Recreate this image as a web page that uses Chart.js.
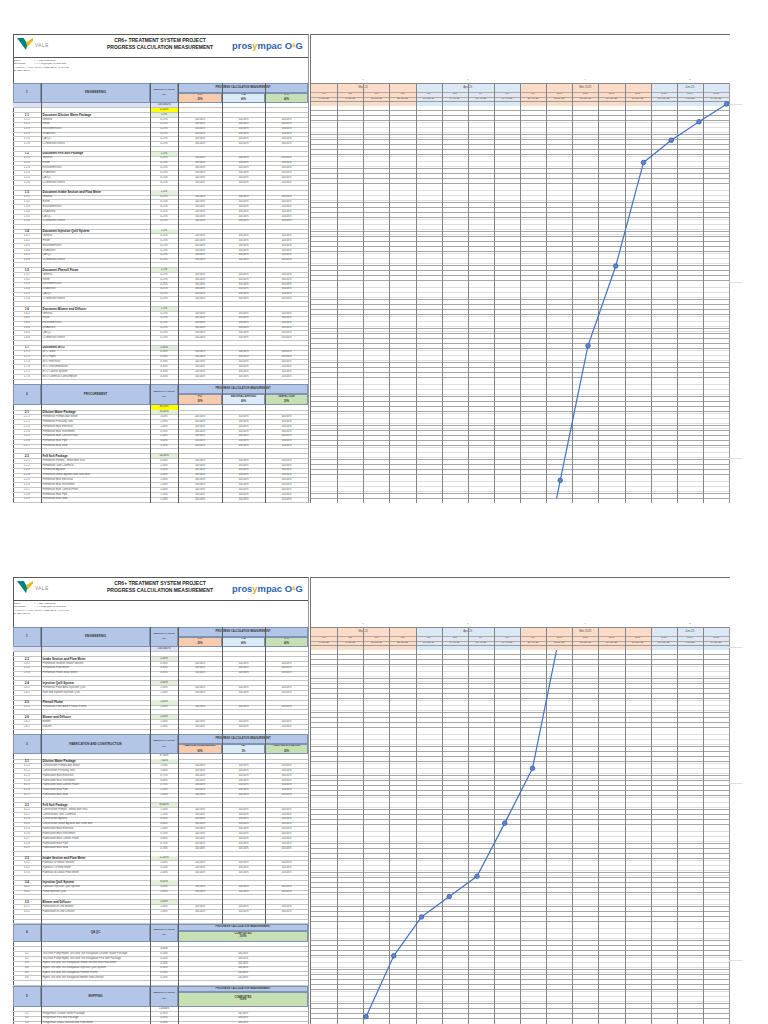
<!DOCTYPE html>
<html>
<head>
<meta charset="utf-8">
<script src="https://cdn.jsdelivr.net/npm/chart.js"></script>
<style>
body { margin: 0; background: #fff; }
#sheet { position: relative; width: 768px; height: 1024px; overflow: hidden; font-family: "Liberation Sans", Arial, sans-serif; color: #333; }
.b { position: absolute; box-sizing: border-box; white-space: nowrap; overflow: hidden; display: flex; align-items: center; font-size: 3px; line-height: 1.05; }
.c { justify-content: center; text-align: center; }
.l { justify-content: flex-start; padding-left: 1.5px; }
.m { flex-direction: column; justify-content: center; text-align: center; }
canvas { position: absolute; }
</style>
</head>
<body>
<div id="sheet"></div>
<script>
// chart data
const weeks = ["W1", "W2", "W3", "W4", "W5", "W6", "W7", "W8", "W9", "W10", "W11", "W12", "W13", "W14", "W15", "W16"];
const weekDates = ["1-Mar-25", "8-Mar-25", "15-Mar-25", "22-Mar-25", "29-Mar-25", "5-Apr-25", "12-Apr-25", "19-Apr-25",
  "26-Apr-25", "3-May-25", "10-May-25", "17-May-25", "24-May-25", "31-May-25", "7-Jun-25", "14-Jun-25"];
const months = ["Mar-25", "Apr-25", "Mei 2025", "Jun-25"];
const monthWeeks = [4, 4, 5, 3];
const monthTicks = ["1", "2", "3", "4"];
// cumulative progress (%)
const cumulativeProgress = [0, 6.7, 14.0, 20.9, 25.3, 27.6, 29.9, 35.9, 42.1, 57.5, 72.7, 81.7, 93.4, 95.9, 98.0, 100];

// table text
const docItems = ["General", "HSSE", "ENGINEERING", "DRAWING", "QA/QC", "COMMISSIONING"];
const mtoItems = ["MTO Steel", "MTO Pipes", "MTO Electrical", "MTO Instrumentation", "MTO Control System", "MTO Chemical Consumption"];
const dwpBuy = ["Pembelian Pompa dan Motor", "Pembelian Pressing Tank", "Pembelian Bulk Electrical", "Pembelian Bulk Instrument",
  "Pembelian Bulk Control Panel", "Pembelian Bulk Pipe", "Pembelian Bulk Skid"];
const fesBuy = ["Pembelian Pompa , Motor dan VSD", "Pembelian Tank Chemical", "Pembelian Agitator", "Pembelian Motor Agitator dan Gear Box",
  "Pembelian Bulk Electrical", "Pembelian Bulk Instrument", "Pembelian Bulk Control Panel", "Pembelian Bulk Pipe", "Pembelian Bulk Skid"];
const dwpFab = ["Construction Pompa dan Motor", "Construction Pressing Tank", "Fabrication Bulk Electrical", "Fabrication Bulk Instrument",
  "Fabrication Bulk Control Panel", "Fabrication Bulk Pipe", "Fabrication Bulk Skid"];
const fesFab = ["Construction Pompa , Motor dan VSD", "Construction Tank Chemical", "Construction Agitator", "Construction Motor Agitator dan Gear Box",
  "Fabrication Bulk Electrical", "Fabrication Bulk Instrument", "Fabrication Bulk Control Panel", "Fabrication Bulk Pipe", "Fabrication Bulk Skid"];
const qaItems = ["Test Run Pump Hydro Test and Test Kelayakan Dilution Water Package", "Test Run Pump Hydro Test and Test Kelayakan FeS Soft Package",
  "Hydro Test and Test Kelayakan Intake Section and Flow Meter", "Hydro Test and Test Kelayakan Injection Quill System",
  "Hydro Test and Test Kelayakan Phenoll Flume", "Hydro Test and Test Kelayakan Blower and Diffuser"];
const shipItems = ["Pengiriman Dilution Water Package", "Pengiriman FeS Soft Package", "Pengiriman Intake Section and Flow Meter"];

const sheet = document.getElementById("sheet");
const RH = 4.85;
const COL = [12.5, 41, 150, 178, 222, 265, 308];
const GRID_L = 311, GRID_W = 418, WK = GRID_W / 16;

function box(x, y, w, h, cls, css, text) {
  var d = document.createElement("div");
  d.className = "b " + (cls || "");
  d.style.cssText = "left:" + x + "px;top:" + y + "px;width:" + w + "px;height:" + h + "px;" + (css || "");
  if (text !== undefined) d.innerHTML = text;
  sheet.appendChild(d);
  return d;
}
function hline(x, y, w, c) { box(x, y, w, 0.7, "", "background:" + (c || "#c4c4c4")); }
function vline(x, y, h, c, wd) { box(x, y, wd || 0.9, h, "", "background:" + (c || "#6b6b6b")); }

// page frame, logos and title block
function drawPageTop(T, bottom) {
  box(COL[0], T, COL[6] - COL[0] + 1.2, bottom - T, "", "border:1px solid #5a5a5a;border-right:1.2px solid #9a9a9a;border-bottom:none");
  box(310.2, T, 419.5, bottom - T, "", "border-left:0.8px solid #777;border-top:1px solid #6a6a6a");
  hline(COL[0], T + 23, COL[6] - COL[0], "#555");
  // vale mark
  box(17, T + 4, 16, 12, "", "background:#00847c;clip-path:polygon(0 0,42% 0,66% 52%,56% 100%)");
  box(17, T + 4, 16, 12, "", "background:#f0b41c;clip-path:polygon(56% 38%,100% 0,100% 18%,66% 72%)");
  box(35, T + 9, 20, 6, "", "font-size:4.6px;color:#8a8a8a;letter-spacing:0.6px", "VALE");
  box(60, T + 3.5, 200, 6, "c", "font-size:5px;font-weight:bold;color:#222", "CR6+ TREATMENT SYSTEM PROJECT");
  box(60, T + 11, 200, 6, "c", "font-size:5px;font-weight:bold;color:#222", "PROGRESS CALCULATION MEASUREMENT");
  box(232, T + 5, 74, 13, "", "font-size:9.4px;font-weight:bold;color:#2f63ad",
    'pros<span style="color:#e0b21b">y</span>mpac O<span style="font-size:5px;color:#e0b21b">&amp;</span>G');
  var info = [["USER", ": PT Vale Indonesia"], ["Contractor", ": PT. Prosympac Oil and Gas"],
    ["PROJECT TITLE", ": CR6+ TREATMENT SYSTEM"], ["ATTACHMENT", ": -"]];
  info.forEach(function (r, i) {
    box(13.5, T + 25.5 + i * 3.5, 20, 3.5, "", "font-size:2.6px;color:#333", r[0]);
    box(33, T + 25.5 + i * 3.5, 60, 3.5, "", "font-size:2.6px;color:#333", r[1]);
  });
}

// week timeline header and grid on the right side
function drawTimeline(yTop, bottom) {
  var colors = ["#fbdcc9", "#dbe8f6", "#fbdcc9", "#dbe8f6"];
  var x = GRID_L, w = 0;
  months.forEach(function (m, i) {
    var mw = monthWeeks[i] * WK;
    box(x, yTop, mw, 23, "", "background:" + colors[i]);
    box(x, yTop, mw, 10, "c", "border-bottom:0.7px solid #b9a79d;color:#555", m);
    box(x, yTop - 4.5, mw, 3.5, "c", "font-size:2.6px;color:#777", monthTicks[i]);
    for (var k = 0; k < monthWeeks[i]; k++) {
      var wx = x + k * WK;
      box(wx, yTop + 10, WK, 4.5, "c", "border-bottom:0.6px solid #b9a79d;font-size:2.7px;color:#444", weeks[w]);
      box(wx, yTop + 14.5, WK, 4.5, "c", "border-bottom:0.6px solid #9a9a9a;font-size:2.4px;color:#444", weekDates[w]);
      w++;
    }
    x += mw;
  });
  box(GRID_L, yTop + 23, GRID_W, bottom - yTop - 23, "",
    "background:repeating-linear-gradient(to bottom,transparent 0,transparent 1.9px,#dedede 1.9px,#dedede 2.4px,transparent 2.4px,transparent 4.2px,#a6a6a6 4.2px,#a6a6a6 4.85px)");
  for (var i = 1; i <= 16; i++) vline(GRID_L + i * WK, yTop, bottom - yTop, i === 16 ? "#9a9a9a" : "#858585");
  hline(GRID_L, yTop, GRID_W, "#8a8a8a");
}

// left table rows
function drawRows(y, rows) {
  var mode = 3;
  rows.forEach(function (r) {
    var t = r[0];
    if (t === "hdr") {
      var h = r[3], subs = r[4], blue = "#b4c6e7", bd = "border:0.7px solid #7f93b5;";
      mode = subs.length;
      box(COL[0], y, COL[1] - COL[0], h, "c", "background:" + blue + ";" + bd + "font-weight:bold", r[1]);
      box(COL[1], y, COL[2] - COL[1], h, "c", "background:" + blue + ";" + bd + "font-weight:bold", r[2]);
      box(COL[2], y, COL[3] - COL[2], h, "m", "background:" + blue + ";" + bd + "font-size:2.5px;font-weight:bold",
        "WEIGHT FACTOR<br><br>(%)");
      var topH = mode === 1 ? 6.5 : 10;
      box(COL[3], y, COL[6] - COL[3], topH, "c", "background:" + blue + ";" + bd + "font-size:2.6px;font-weight:bold",
        "PROGRESS CALCULATION MEASUREMENT");
      if (mode === 1) {
        box(COL[3], y + topH, COL[6] - COL[3], h - topH, "m", "background:#c6e0b4;" + bd + "font-size:2.7px;font-weight:bold",
          subs[0][0] + "<br>" + subs[0][1]);
      } else {
        var sc = ["#f8cbad", "#ddebf7", "#c6e0b4"];
        for (var i = 0; i < 3; i++) {
          box(COL[3 + i], y + topH, COL[4 + i] - COL[3 + i], h - topH, "m", "background:" + sc[i] + ";" + bd + "font-size:2.6px;font-weight:bold",
            subs[i][0] + "<br><br>" + subs[i][1]);
        }
      }
      y += h;
      return;
    }
    var rh = RH;
    if (t === "tot") {
      if (r[2] === "blue") box(COL[0], y, COL[3] - COL[0], rh, "", "background:#d9e2f3");
      box(COL[2], y, COL[3] - COL[2], rh, "c", (r[2] === "yellow" ? "background:#ffff00;" : "") + "font-size:2.6px", r[1]);
    } else if (t === "sec") {
      box(COL[0], y, COL[1] - COL[0], rh, "c", "font-weight:bold;font-size:3px;color:#222", r[1]);
      box(COL[1], y, COL[2] - COL[1], rh, "l", "font-weight:bold;font-size:3px;color:#222", r[2]);
      box(COL[2], y, COL[3] - COL[2], rh, "c", "background:#e2efda;font-size:2.7px", r[3]);
    } else if (t === "item") {
      box(COL[0], y, COL[1] - COL[0], rh, "c", "font-size:2.7px;color:#555", r[1]);
      box(COL[1], y, COL[2] - COL[1], rh, "l", "font-size:2.7px;color:#555", r[2]);
      box(COL[2], y, COL[3] - COL[2], rh, "c", "font-size:2.6px;color:#555", r[3]);
      if (mode === 1) {
        box(COL[3], y, COL[6] - COL[3], rh, "c", "font-size:2.6px;color:#555", "100,00%");
      } else {
        for (var j = 0; j < 3; j++) box(COL[3 + j], y, COL[4 + j] - COL[3 + j], rh, "c", "font-size:2.6px;color:#555", "100,00%");
      }
    }
    hline(COL[0], y + rh - 0.6, COL[6] - COL[0]);
    y += rh;
  });
  return y;
}

function section(num, title, weight, itemWeight, items, gap) {
  var out = [["sec", num, title, weight]];
  items.forEach(function (it, i) {
    var w = Array.isArray(itemWeight) ? itemWeight[i] : itemWeight;
    out.push(["item", num + "." + (i + 1), it, w]);
  });
  for (var g = 0; g < (gap === undefined ? 1 : gap); g++) out.push(["gap"]);
  return out;
}

var page1Rows = [].concat(
  [["hdr", "1", "ENGINEERING", 20, [["IFR", "20%"], ["IFA", "40%"], ["IFC", "40%"]]]],
  [["tot", "100,0000%", "blue"], ["tot", "11,00%", "yellow"]],
  section("1.1", "Document Dilution Water Package", "1,5%", "0,25%", docItems),
  section("1.2", "Document FeS Soft Package", "1,5%", "0,25%", docItems),
  section("1.3", "Document Intake Section and Flow Meter", "1,5%", "0,25%", docItems),
  section("1.4", "Document Injection Quill System", "1,5%", "0,25%", docItems),
  section("1.5", "Document Phenoll Flume", "1,5%", "0,25%", docItems),
  section("1.6", "Document Blower and Diffuser", "1,5%", "0,25%", docItems),
  section("1.7", "Document MTO", "2,00%", "0,33%", mtoItems),
  [["hdr", "2", "PROCUREMENT", 21, [["PO", "30%"], ["MATERIAL ARRIVED", "40%"], ["INSPECTION", "30%"]]]],
  [["tot", "36,00%", "yellow"]],
  section("2.1", "Dilution Water Package", "16,00%", ["3,00%", "2,00%", "2,00%", "0,50%", "2,00%", "3,00%", "3,50%"], dwpBuy),
  section("2.2", "FeS Soft Package", "16,00%", ["4,00%", "2,00%", "1,00%", "2,00%", "1,00%", "1,00%", "2,00%", "1,50%", "1,50%"], fesBuy, 0)
);

var page2Rows = [].concat(
  [["hdr", "1", "ENGINEERING", 20, [["IFR", "20%"], ["IFA", "40%"], ["IFC", "40%"]]]],
  [["tot", "100,0000%", "blue"], ["gap"]],
  section("2.3", "Intake Section and Flow Meter", "1,00%", ["0,34%", "0,33%", "0,33%"],
    ["Pembelian Strainer Intake Section", "Pembelian Flow Meter", "Pembelian Panel Solar Meter"]),
  section("2.4", "Injection Quill System", "2,00%", ["1,00%", "1,00%"], ["Pembelian Fiber Area Injection Quill", "Pipe and System Injection Quill"]),
  section("2.5", "Phenoll Flume", "1,00%", "1,00%", ["Pembelian Fiber Area Phenoll Flume"]),
  section("2.6", "Blower and Diffuser", "2,00%", ["1,00%", "1,00%"], ["Blower", "Diffuser"]),
  [["hdr", "3", "FABRICATION AND CONSTRUCTION", 20, [["FABRICATION/ASSEMBLY", "60%"], ["FAT", "5%"], ["PAINTING &amp; COATING", "35%"]]]],
  [["tot", "37,00%", ""]],
  section("3.1", "Dilution Water Package", "7,00%", ["1,00%", "1,00%", "0,75%", "0,60%", "0,75%", "1,50%", "1,40%"], dwpFab),
  section("3.2", "FeS Soft Package", "8,000%", ["1,50%", "1,10%", "0,90%", "0,80%", "1,00%", "0,70%", "0,60%", "0,70%", "0,70%"], fesFab),
  section("3.3", "Intake Section and Flow Meter", "12,00%", ["5,00%", "5,00%", "2,00%"],
    ["Fabrikasi of Intake Section", "Fabrikasi Of Flow Meter", "Fabrikasi di Lokasi Flow Meter"]),
  section("3.4", "Injection Quill System", "8,00%", ["5,00%", "3,00%"], ["Fabrikasi Injection Quill System", "Fixed Injection Quill"]),
  section("3.5", "Blower and Diffuser", "2,00%", ["1,00%", "1,00%"], ["Fabrication of Line Blower", "Fabrication of Line Diffuser"], 2),
  [["hdr", "4", "QA QC", 18, [["COMPLETED", "100%"]]]],
  [["gap"], ["tot", "3,00%", ""]],
  section("4", "", "", ["0,50%", "0,50%", "0,50%", "0,50%", "0,50%", "0,50%"], qaItems).slice(1),
  [["hdr", "5", "SHIPPING", 21, [["COMPLETED", "100%"]]]],
  [["tot", "1,0000%", ""]],
  section("5", "", "", ["0,34%", "0,33%", "0,33%"], shipItems, 0).slice(1)
);

// ---- page 1 ----
drawPageTop(34, 503);
drawTimeline(83, 503);
drawRows(83, page1Rows);
[41, 150, 178, 222, 265].forEach(function (x) { vline(x, 83, 420, "#5e5e5e"); });

// ---- page 2 ----
drawPageTop(577, 1030);
drawTimeline(627, 1030);
drawRows(627, page2Rows);
[41, 150, 178].forEach(function (x) { vline(x, 627, 400, "#5e5e5e"); });
[222, 265].forEach(function (x) { vline(x, 627, 297, "#5e5e5e"); });

// faint value-axis stubs right of the grid
[104, 282, 458, 647, 783, 960].forEach(function (y) { hline(729, y, 13, "#dedede"); });

// ---- S-curve (one chart per printed page) ----
function drawCurve(left, top, width, height, pad, yMin, yMax, clipTop) {
  var cv = document.createElement("canvas");
  cv.width = width;
  cv.height = height;
  cv.style.cssText = "left:" + left + "px;top:" + top + "px;width:" + width + "px;height:" + height + "px;";
  sheet.appendChild(cv);
  new Chart(cv.getContext("2d"), {
    type: "line",
    data: {
      labels: weeks,
      datasets: [
        {
          label: "Progress",
          data: cumulativeProgress,
          borderColor: "#4472c4",
          borderWidth: 1.2,
          pointRadius: 2.3,
          pointBackgroundColor: "#5b86d6",
          pointBorderColor: "#2f5597",
          pointBorderWidth: 0.7,
          tension: 0,
          clip: { left: 6, right: 6, top: clipTop, bottom: 0 },
        },
      ],
    },
    options: {
      responsive: false,
      animation: false,
      layout: { padding: pad },
      plugins: { legend: { display: false }, tooltip: { enabled: false } },
      scales: {
        x: { display: false, offset: false },
        y: { display: false, min: yMin, max: yMax },
      },
    },
  });
}

drawCurve(300, 95, 445, 408, { left: 10.5, right: 18.25, top: 9, bottom: 0 }, 55.47, 100, 6);
drawCurve(300, 641, 445, 383, { left: 10.5, right: 18.25, top: 9, bottom: 0 }, 13.73, 55.47, 0);
</script>
</body>
</html>
